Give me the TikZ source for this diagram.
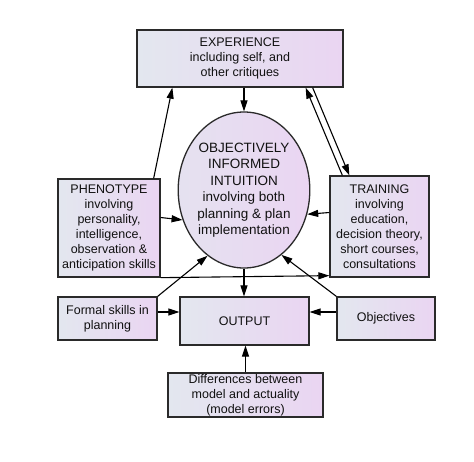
\documentclass[tikz,border=0pt]{standalone}
\usepackage{fontspec}
\setmainfont{Liberation Sans}
\usepackage{tikz}
\usetikzlibrary{shapes.geometric, arrows.meta, positioning, calc}
\definecolor{boxline}{HTML}{2A2A2A}
\definecolor{fillL}{HTML}{E3E7EF}
\definecolor{fillR}{HTML}{EAD5F2}
\definecolor{txt}{HTML}{111111}

\begin{document}
\begin{tikzpicture}[x=1pt, y=-1pt,
  box/.style={draw=boxline, line width=1.3pt, left color=fillL, right color=fillR,
    align=center, inner sep=1pt, text=txt, font=\fontsize{12.5}{15}\selectfont},
  oval/.style={ellipse, draw=boxline, line width=1.3pt, left color=fillL!70!fillR, right color=fillR,
    align=center, inner sep=0pt, text=txt, font=\fontsize{13.5}{16.5}\selectfont,
    minimum width=122pt, minimum height=156pt},
  arr/.style={draw=black, line width=1.1pt, -{Triangle[length=11pt,width=7pt]}}]
\useasboundingbox (0,0) rectangle (474,461);
% boxes
\node[box, minimum width=206pt, minimum height=57pt] (experience) at (240,58.5)
  {EXPERIENCE\\including self, and\\other critiques};
\node[oval] (oii) at (244,190)
  {OBJECTIVELY\\INFORMED\\INTUITION\\involving both\\planning \& plan\\implementation};
\node[box, minimum width=102pt, minimum height=98pt] (phenotype) at (109,228)
  {PHENOTYPE\\involving\\personality,\\intelligence,\\observation \&\\anticipation skills};
\node[box, minimum width=99pt, minimum height=101pt] (training) at (379.5,226.5)
  {TRAINING\\involving\\education,\\decision theory,\\short courses,\\consultations};
\node[box, minimum width=129pt, minimum height=48pt] (output) at (244.5,321) {OUTPUT};
\node[box, minimum width=99pt, minimum height=43pt] (formal) at (107.5,318.5)
  {Formal skills in\\planning};
\node[box, minimum width=98pt, minimum height=43pt] (objectives) at (386,318.5) {Objectives};
\node[box, minimum width=155pt, minimum height=44pt] (differences) at (245.5,395)
  {Differences between\\model and actuality\\(model errors)};
% connectors
\draw[arr] (oii.north |- experience.south) -- (oii.north);
\draw[arr] ([xshift=-7pt]phenotype.north east) -- ([xshift=36pt]experience.south west);
\draw[arr] ([xshift=13pt]training.north west) -- ([xshift=-38pt]experience.south east);
\draw[arr] ([xshift=-31pt]experience.south east) -- ([xshift=20pt]training.north west);
\draw[arr] ([yshift=10.5pt]phenotype.east) -- (oii.206);
\draw[arr] ([yshift=14pt]training.west) -- (oii.339);
\draw[arr] (phenotype.south east) -- ([yshift=2pt]training.south west);
\draw[arr] (formal.north east) -- (oii.241);
\draw[arr] (objectives.north west) -- (oii.300);
\draw[arr] (oii.south) -- (oii.south |- output.north);
\coordinate (fo) at ([yshift=6.5pt]formal.east);
\coordinate (ob) at ([yshift=6.5pt]objectives.west);
\draw[arr] (fo) -- (fo -| output.west);
\draw[arr] (ob) -- (ob -| output.east);
\draw[arr] (differences.north) -- (differences.north |- output.south);
\end{tikzpicture}
\end{document}
